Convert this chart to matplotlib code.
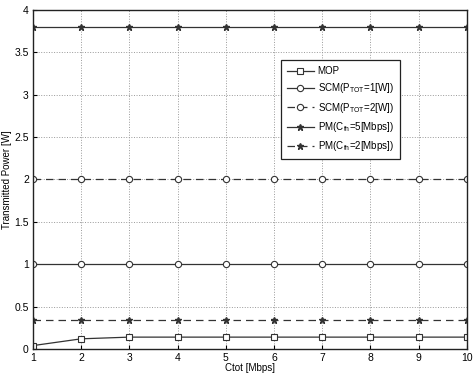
import matplotlib
matplotlib.use("Agg")
import matplotlib.pyplot as plt

x = [1, 2, 3, 4, 5, 6, 7, 8, 9, 10]
mop = [0.04, 0.12, 0.14, 0.14, 0.14, 0.14, 0.14, 0.14, 0.14, 0.14]
scm1 = [1.0] * 10
scm2 = [2.0] * 10
pm5 = [3.8] * 10
pm2 = [0.34] * 10
labels = ["MOP", r"SCM(P$_{\mathrm{TOT}}$=1[W])", r"SCM(P$_{\mathrm{TOT}}$=2[W])",
          r"PM(C$_{\mathrm{th}}$=5[Mbps])", r"PM(C$_{\mathrm{th}}$=2[Mbps])"]

plt.rcParams['font.family'] = ['Liberation Sans', 'DejaVu Sans']
plt.rcParams['mathtext.fontset'] = 'custom'
plt.rcParams['mathtext.rm'] = 'Liberation Sans'

fig = plt.figure(figsize=(4.74, 3.77), dpi=100)
ax = fig.add_axes([0.0696, 0.0743, 0.9154, 0.8992])

c = '#333333'
ax.plot(x, mop, '-', color=c, lw=0.9, marker='s', ms=4, mfc='white', mec=c, mew=0.8, label=labels[0])
ax.plot(x, scm1, '-', color=c, lw=0.9, marker='o', ms=4.5, mfc='white', mec=c, mew=0.8, label=labels[1])
ax.plot(x, scm2, '--', color=c, lw=0.9, dashes=(6, 4), marker='o', ms=4.5, mfc='white', mec=c, mew=0.8, label=labels[2])
ax.plot(x, pm5, '-', color=c, lw=0.9, marker='*', ms=4.5, mfc=c, mec=c, label=labels[3])
ax.plot(x, pm2, '--', color=c, lw=0.9, dashes=(6, 4), marker='*', ms=4.5, mfc=c, mec=c, label=labels[4])

ax.set_xlim(1, 10)
ax.set_ylim(0, 4)
ax.set_xticks(range(1, 11))
ax.set_yticks([0, 0.5, 1, 1.5, 2, 2.5, 3, 3.5, 4])
ax.set_yticklabels(['0', '0.5', '1', '1.5', '2', '2.5', '3', '3.5', '4'])
ax.grid(True, linestyle=':', color='#999999', lw=0.7)
ax.tick_params(labelsize=7.5, direction='in', length=3, width=0.8, pad=3)
for s in ax.spines.values():
    s.set_linewidth(1.0)
    s.set_color('#222222')
ax.set_xlabel('Ctot [Mbps]', fontsize=7, labelpad=0)
ax.set_ylabel('Transmitted Power [W]', fontsize=7, labelpad=2)

leg = ax.legend(loc='upper left', bbox_to_anchor=(0.571, 0.852), fontsize=7,
                frameon=True, fancybox=False, edgecolor='#222222', framealpha=1,
                handlelength=2.8, labelspacing=0.55, borderpad=0.6, handletextpad=0.4,
                borderaxespad=0)
leg.get_frame().set_linewidth(0.9)

fig.savefig('out.png', dpi=100)
